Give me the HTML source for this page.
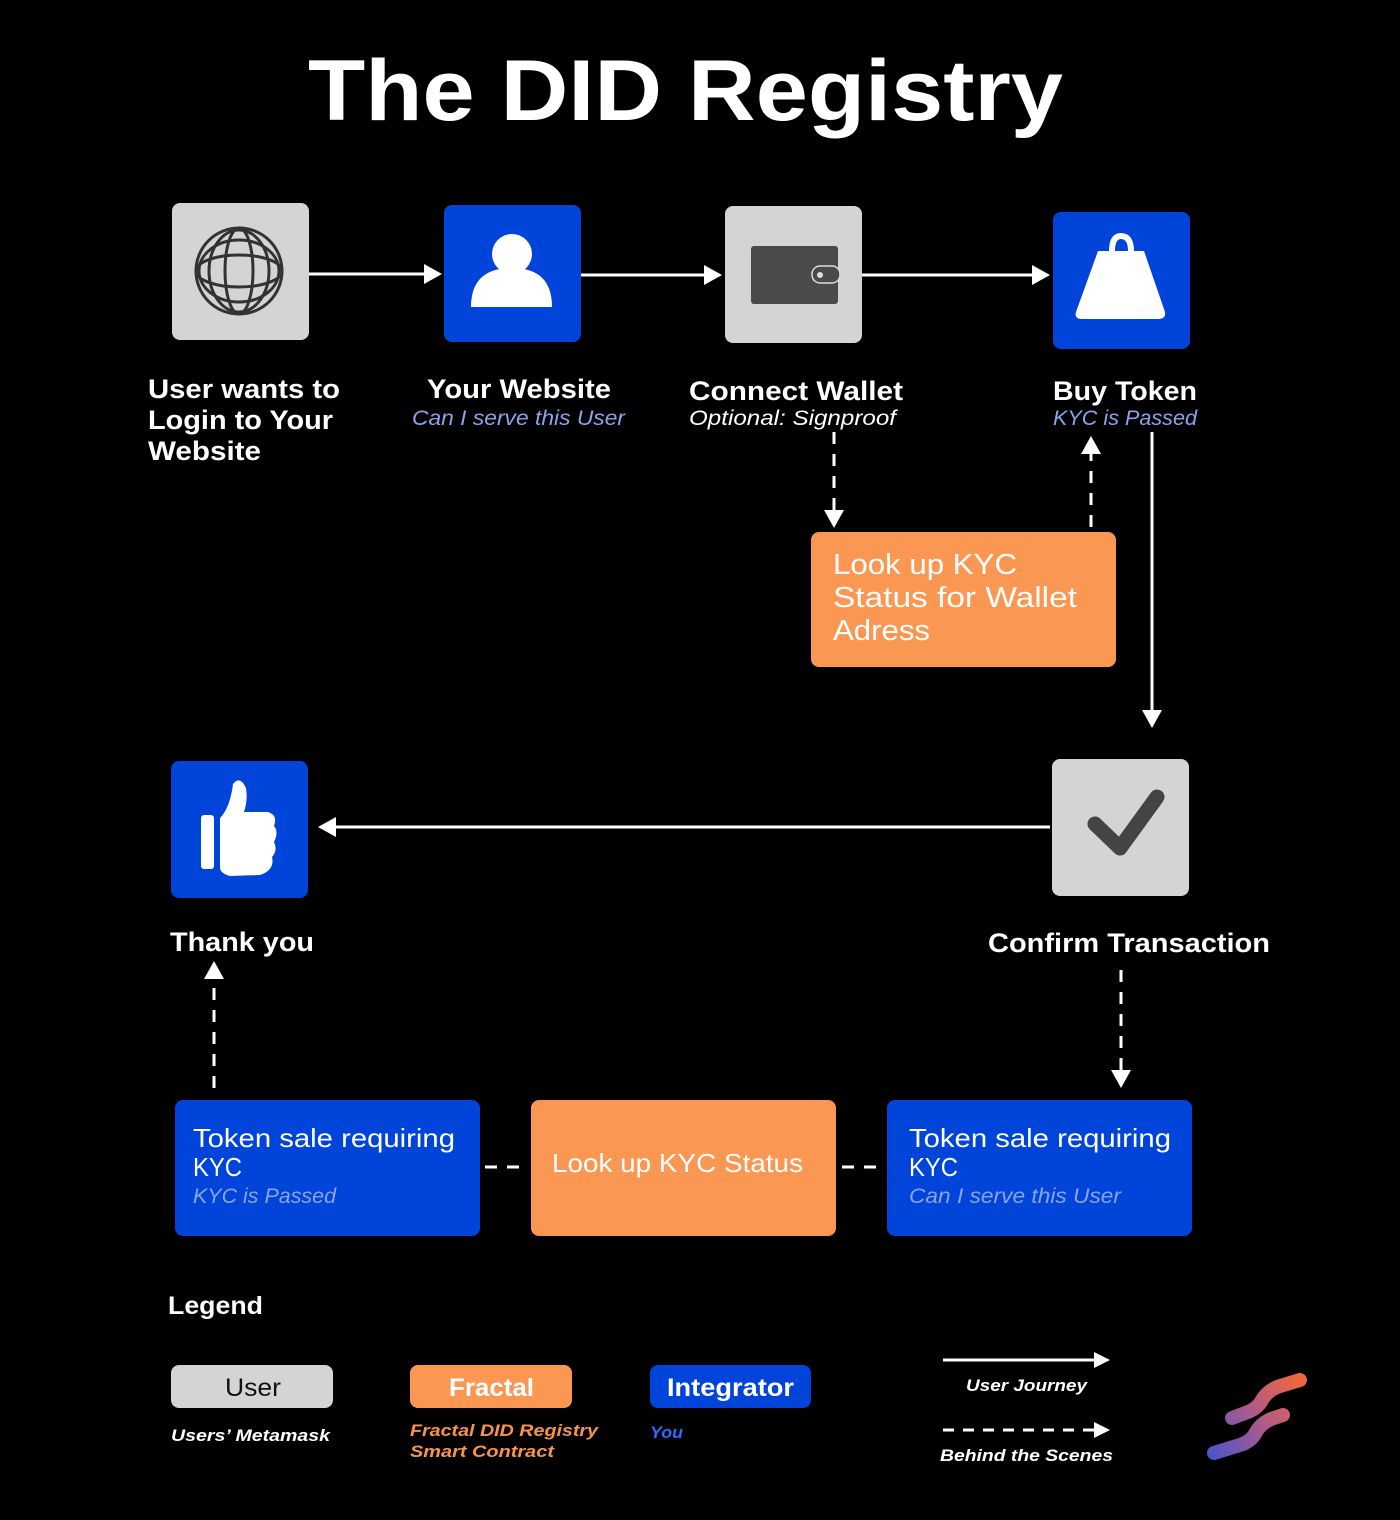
<!DOCTYPE html>
<html><head><meta charset="utf-8"><style>
html,body{margin:0;padding:0;background:#000;}
svg{display:block}
text{font-family:"Liberation Sans",sans-serif;}
</style></head><body>
<svg width="1400" height="1520" viewBox="0 0 1400 1520" xmlns="http://www.w3.org/2000/svg">
<defs>
<linearGradient id="lg" gradientUnits="userSpaceOnUse" x1="1210" y1="1455" x2="1305" y2="1380"><stop offset="0" stop-color="#4b55c8"/><stop offset="0.5" stop-color="#b05a8a"/><stop offset="1" stop-color="#f2683a"/></linearGradient>
</defs>
<rect width="1400" height="1520" fill="#000"/>
<text x="308" y="120" font-size="86" font-weight="bold" fill="#fff" textLength="755" lengthAdjust="spacingAndGlyphs">The DID Registry</text>

<rect x="172" y="203" width="137" height="137" rx="8" fill="#d4d4d4"/>
<g fill="none" stroke="#333" stroke-width="3">
<circle cx="239" cy="271" r="43"/>
<ellipse cx="239" cy="271" rx="43" ry="16"/>
<ellipse cx="239" cy="271" rx="40" ry="31"/>
<ellipse cx="239" cy="271" rx="14" ry="43"/>
<ellipse cx="239" cy="271" rx="30" ry="41"/>
</g>
<rect x="444" y="205" width="137" height="137" rx="8" fill="#0044d9"/>
<circle cx="512" cy="254" r="20" fill="#fff"/>
<path d="M471 307 Q471 268 512 268 Q552 268 552 307 Z" fill="#fff"/>
<rect x="725" y="206" width="137" height="137" rx="8" fill="#d4d4d4"/>
<rect x="751" y="246" width="87" height="58" rx="3" fill="#4a4a4a"/>
<rect x="812" y="266" width="28" height="17" rx="8" fill="#4a4a4a" stroke="#ddd" stroke-width="1.5"/>
<circle cx="820" cy="275" r="3" fill="#ddd"/>
<rect x="1053" y="212" width="137" height="137" rx="8" fill="#0044d9"/>
<path d="M1112 251 Q1112 236 1121 236 Q1131 236 1131 251" fill="none" stroke="#fff" stroke-width="6"/>
<path d="M1098 251 L1144 251 L1165 312 Q1166 319 1158 319 L1082 319 Q1074 319 1076 312 Z" fill="#fff"/>
<rect x="1052" y="759" width="137" height="137" rx="8" fill="#d4d4d4"/>
<path d="M1095 824 L1120 848 L1157 797" fill="none" stroke="#444" stroke-width="15" stroke-linecap="round" stroke-linejoin="round"/>
<rect x="171" y="761" width="137" height="137" rx="8" fill="#0044d9"/>
<rect x="201" y="815" width="13" height="54" rx="3" fill="#fff"/>
<path d="M220 869 L220 818 Q230 808 233 784 Q240 775 246 788 Q248 800 244 812 L268 812 Q278 815 274 826 Q279 832 274 842 Q278 850 272 857 Q275 870 260 875 L230 876 Q222 874 220 869 Z" fill="#fff"/>

<rect x="811" y="532" width="305" height="135" rx="8" fill="#fa9752"/>
<g fill="#fff" font-size="29">
<text x="833" y="574" textLength="184" lengthAdjust="spacingAndGlyphs">Look up KYC</text>
<text x="833" y="607" textLength="244" lengthAdjust="spacingAndGlyphs">Status for Wallet</text>
<text x="833" y="640" textLength="97" lengthAdjust="spacingAndGlyphs">Adress</text>
</g>

<rect x="175" y="1100" width="305" height="136" rx="8" fill="#0044d9"/>
<rect x="531" y="1100" width="305" height="136" rx="8" fill="#fa9752"/>
<rect x="887" y="1100" width="305" height="136" rx="8" fill="#0044d9"/>
<g fill="#fff" font-size="26">
<text x="193" y="1147" textLength="262" lengthAdjust="spacingAndGlyphs">Token sale requiring</text>
<text x="193" y="1176" textLength="49" lengthAdjust="spacingAndGlyphs">KYC</text>
<text x="909" y="1147" textLength="262" lengthAdjust="spacingAndGlyphs">Token sale requiring</text>
<text x="909" y="1176" textLength="49" lengthAdjust="spacingAndGlyphs">KYC</text>
<text x="552" y="1172" textLength="251" lengthAdjust="spacingAndGlyphs">Look up KYC Status</text>
</g>
<g fill="#8aa4f0" font-size="21" font-style="italic">
<text x="193" y="1203" textLength="143" lengthAdjust="spacingAndGlyphs">KYC is Passed</text>
<text x="909" y="1203" textLength="212" lengthAdjust="spacingAndGlyphs">Can I serve this User</text>
<text x="412" y="425" textLength="213" lengthAdjust="spacingAndGlyphs">Can I serve this User</text>
<text x="1053" y="425" textLength="144" lengthAdjust="spacingAndGlyphs">KYC is Passed</text>
</g>
<text x="689" y="425" fill="#fff" font-size="21" font-style="italic" textLength="207" lengthAdjust="spacingAndGlyphs">Optional: Signproof</text>

<g fill="#fff" font-size="27" font-weight="bold">
<text x="148" y="398" textLength="192" lengthAdjust="spacingAndGlyphs">User wants to</text>
<text x="148" y="429" textLength="185" lengthAdjust="spacingAndGlyphs">Login to Your</text>
<text x="148" y="460" textLength="113" lengthAdjust="spacingAndGlyphs">Website</text>
<text x="427" y="398" textLength="184" lengthAdjust="spacingAndGlyphs">Your Website</text>
<text x="689" y="400" textLength="214" lengthAdjust="spacingAndGlyphs">Connect Wallet</text>
<text x="1053" y="400" textLength="144" lengthAdjust="spacingAndGlyphs">Buy Token</text>
<text x="170" y="951" textLength="144" lengthAdjust="spacingAndGlyphs">Thank you</text>
<text x="988" y="952" textLength="282" lengthAdjust="spacingAndGlyphs">Confirm Transaction</text>
</g>

<g stroke="#fff" stroke-width="3" fill="none">
<line x1="309" y1="274" x2="426" y2="274"/>
<line x1="581" y1="275" x2="706" y2="275"/>
<line x1="862" y1="275" x2="1034" y2="275"/>
<line x1="1152" y1="432" x2="1152" y2="712"/>
<line x1="1050" y1="827" x2="334" y2="827"/>
<g stroke-dasharray="12 10">
<line x1="834" y1="432" x2="834" y2="512"/>
<line x1="1091" y1="527" x2="1091" y2="452"/>
<line x1="214" y1="1088" x2="214" y2="978"/>
<line x1="1121" y1="970" x2="1121" y2="1072"/>
<line x1="485" y1="1167" x2="525" y2="1167"/>
<line x1="842" y1="1167" x2="882" y2="1167"/>
</g>
</g>
<g fill="#fff">
<polygon points="424,264 442,274 424,284"/>
<polygon points="704,265 722,275 704,285"/>
<polygon points="1032,265 1050,275 1032,285"/>
<polygon points="1142,710 1152,728 1162,710"/>
<polygon points="336,817 318,827 336,837"/>
<polygon points="824,510 834,528 844,510"/>
<polygon points="1081,454 1091,436 1101,454"/>
<polygon points="204,979 214,961 224,979"/>
<polygon points="1111,1070 1121,1088 1131,1070"/>
</g>

<text x="168" y="1314" fill="#fff" font-size="25" font-weight="bold" textLength="95" lengthAdjust="spacingAndGlyphs">Legend</text>
<rect x="171" y="1365" width="162" height="43" rx="8" fill="#d4d4d4"/>
<rect x="410" y="1365" width="162" height="43" rx="8" fill="#fa9752"/>
<rect x="650" y="1365" width="161" height="43" rx="8" fill="#0044d9"/>
<text x="225" y="1396" fill="#111" font-size="25" textLength="56" lengthAdjust="spacingAndGlyphs">User</text>
<text x="449" y="1396" fill="#fff" font-size="25" font-weight="bold" textLength="85" lengthAdjust="spacingAndGlyphs">Fractal</text>
<text x="667" y="1396" fill="#fff" font-size="25" font-weight="bold" textLength="127" lengthAdjust="spacingAndGlyphs">Integrator</text>
<g font-size="17" font-weight="bold" font-style="italic">
<text x="171" y="1441" fill="#fff" textLength="159" lengthAdjust="spacingAndGlyphs">Users’ Metamask</text>
<text x="410" y="1436" fill="#f7934c" textLength="188" lengthAdjust="spacingAndGlyphs">Fractal DID Registry</text>
<text x="410" y="1457" fill="#f7934c" textLength="144" lengthAdjust="spacingAndGlyphs">Smart Contract</text>
<text x="650" y="1438" fill="#2f6bff" textLength="33" lengthAdjust="spacingAndGlyphs">You</text>
<text x="966" y="1391" fill="#fff" textLength="121" lengthAdjust="spacingAndGlyphs">User Journey</text>
<text x="940" y="1461" fill="#fff" textLength="173" lengthAdjust="spacingAndGlyphs">Behind the Scenes</text>
</g>
<line x1="943" y1="1360" x2="1096" y2="1360" stroke="#fff" stroke-width="3"/>
<polygon points="1094,1352 1110,1360 1094,1368" fill="#fff"/>
<line x1="943" y1="1430" x2="1096" y2="1430" stroke="#fff" stroke-width="3" stroke-dasharray="11 9"/>
<polygon points="1094,1422 1110,1430 1094,1438" fill="#fff"/>

<g fill="none" stroke="url(#lg)" stroke-width="14" stroke-linecap="round">
<path d="M1232 1418 L1248 1412 Q1258 1408 1262 1400 Q1268 1390 1280 1386 L1300 1380"/>
<path d="M1214 1453 L1240 1445 Q1252 1441 1256 1432 Q1262 1422 1274 1418 L1283 1415"/>
</g>
</svg>
</body></html>
